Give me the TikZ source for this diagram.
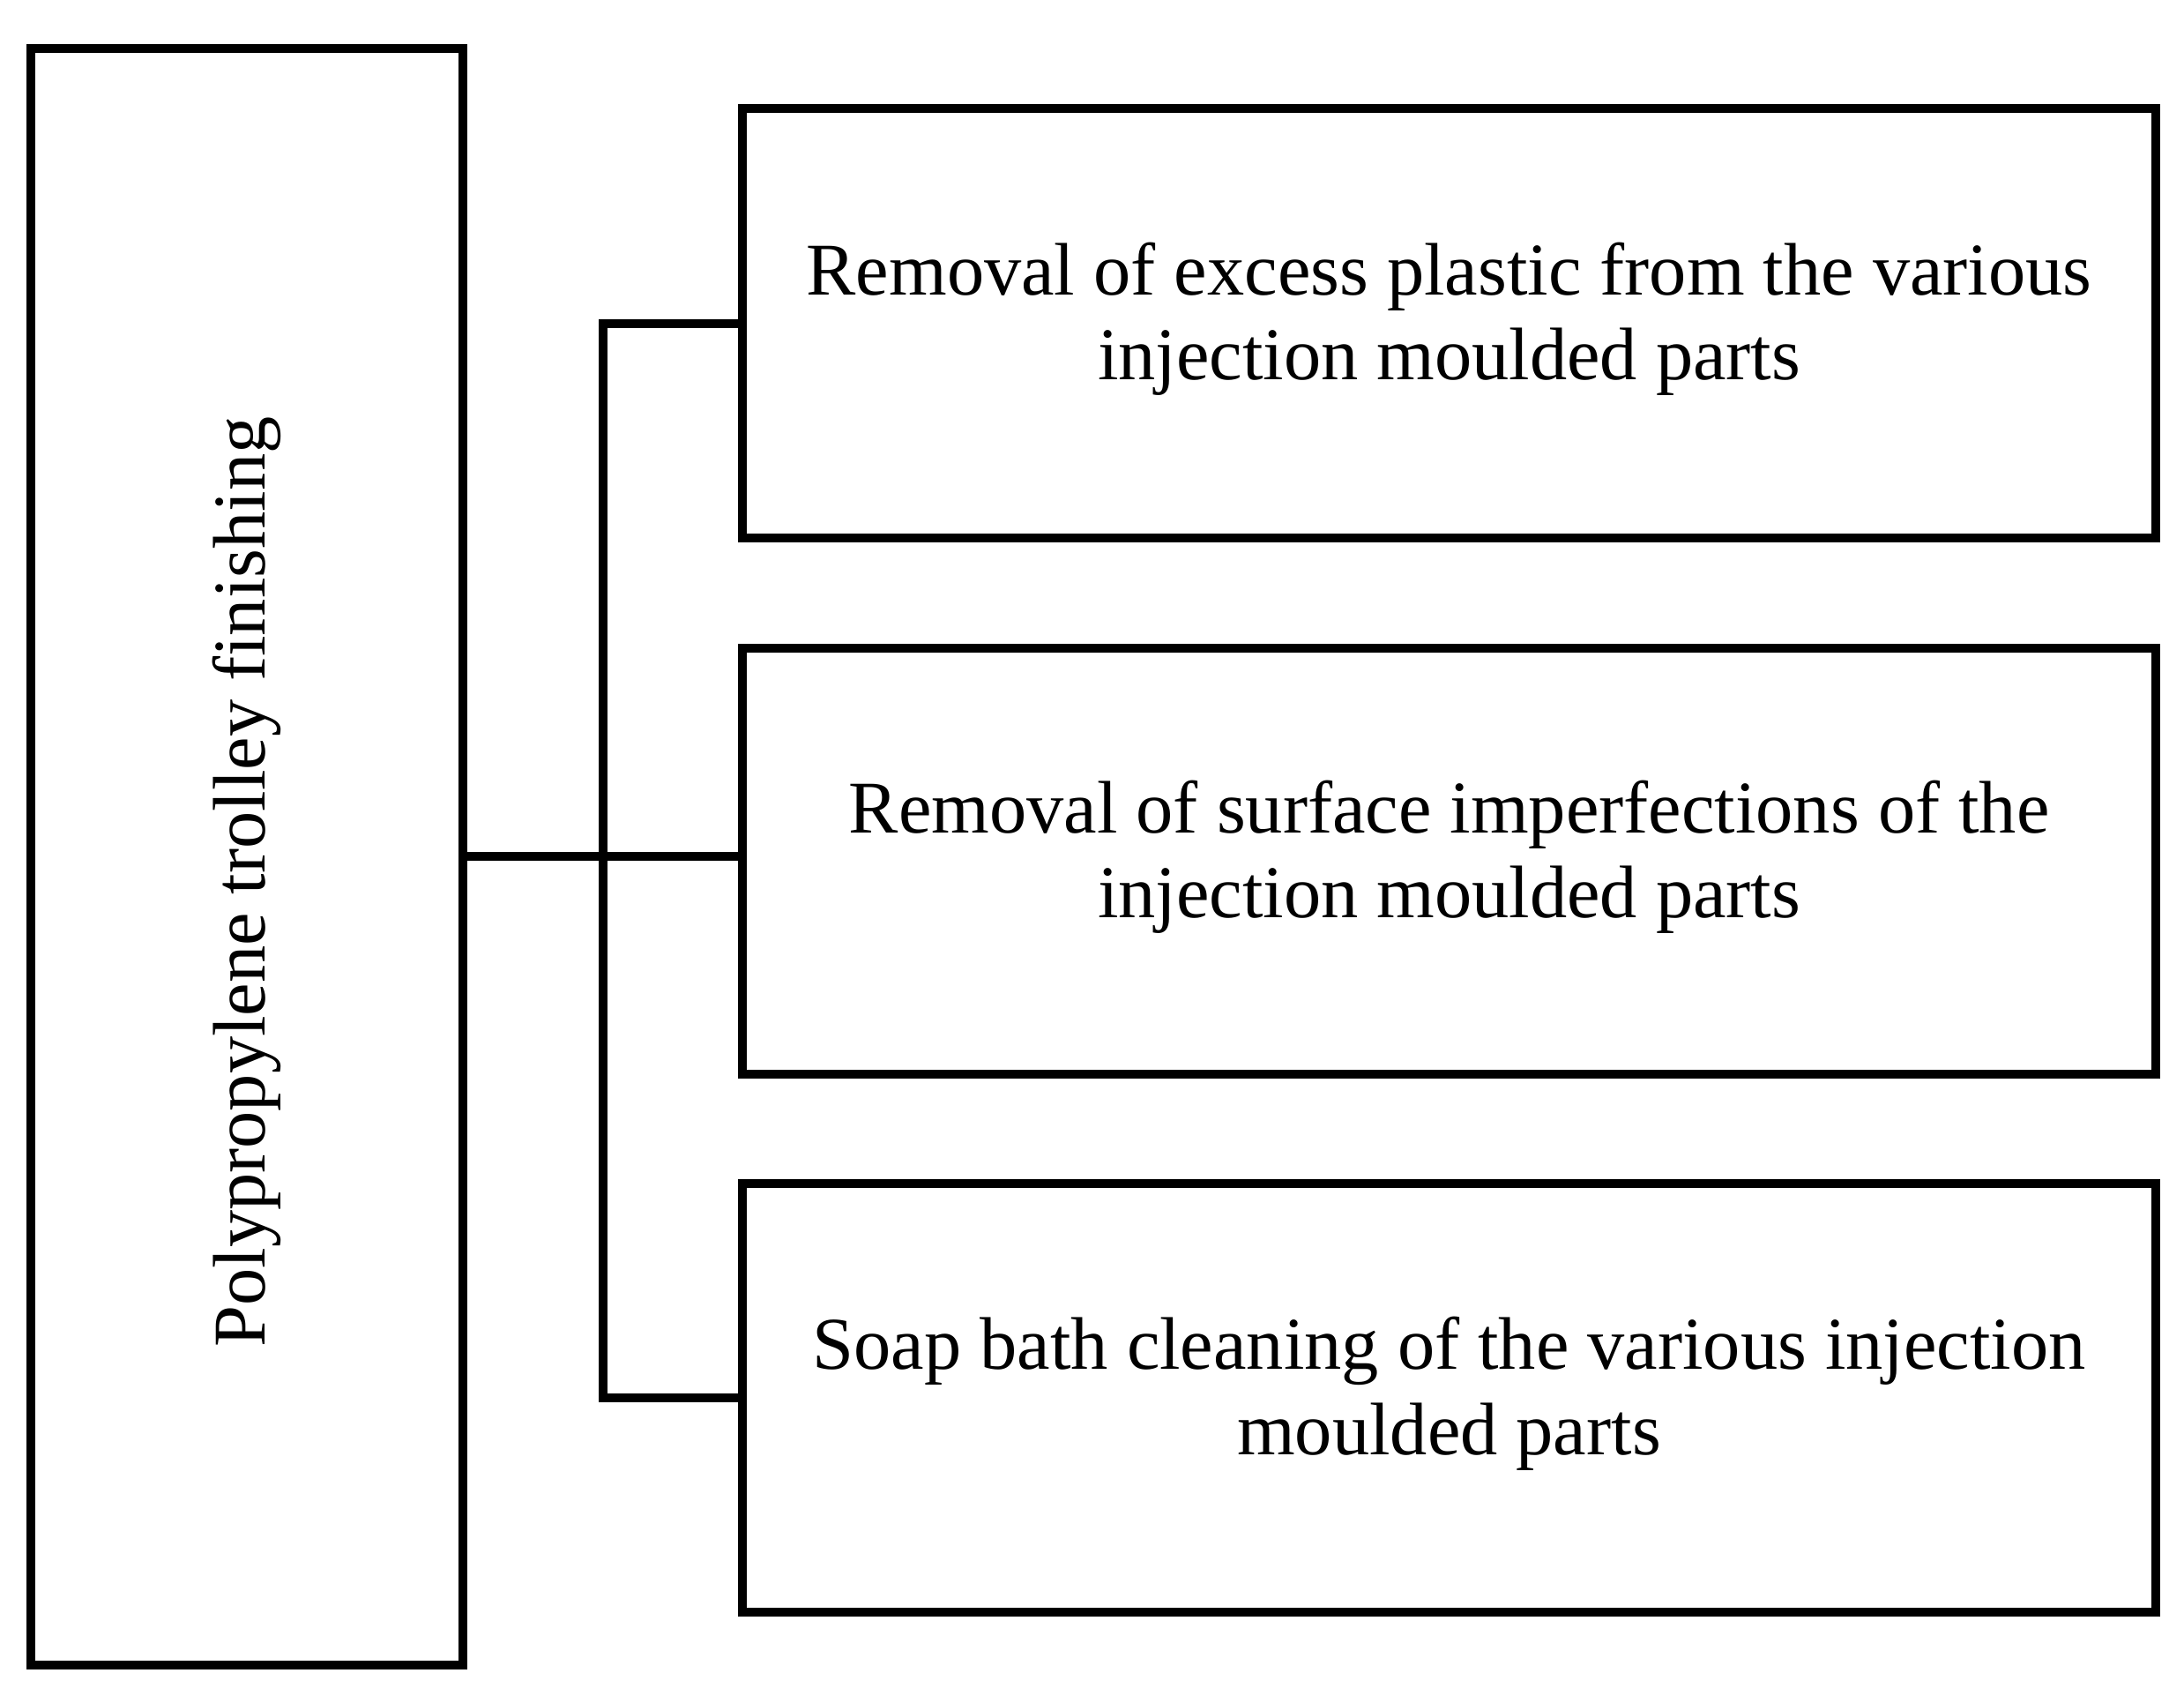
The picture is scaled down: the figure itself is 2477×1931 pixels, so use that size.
\documentclass[tikz,border=0pt]{standalone}
\usepackage{fontspec}
\setmainfont{Liberation Serif}
\begin{document}
\begin{tikzpicture}[x=0.01cm,y=-0.01cm,
  box/.style={draw,line width=2.9pt,inner sep=0pt},
  conn/.style={line width=2.9pt},
  txt/.style={align=center,font=\fontsize{24}{27.5}\selectfont}]
\useasboundingbox (0,0) rectangle (2477,1931);
\draw[box] (35,55) rectangle (525,1888);
\coordinate (lb) at (525,971);
\node[box,minimum width=16.02cm,minimum height=4.87cm,anchor=north west] (b1) at (837,118) {};
\node[box,minimum width=16.02cm,minimum height=4.83cm,anchor=north west] (b2) at (837,730) {};
\node[box,minimum width=16.02cm,minimum height=4.86cm,anchor=north west] (b3) at (837,1337) {};
\node[txt,rotate=90] (lt) at (280,1000) {Polypropylene trolley finishing};
\node[txt] at ([yshift=0.05cm]b1.center) {Removal of excess plastic from the various\\injection moulded parts};
\node[txt] at ([yshift=0.05cm]b2.center) {Removal of surface imperfections of the\\injection moulded parts};
\node[txt] at ([yshift=0.05cm]b3.center) {Soap bath cleaning of the various injection\\moulded parts};
\coordinate (j) at (684,971);
\draw[conn] (lb) -- (lb -| b2.west);
\draw[conn] (b1.west) -| (j) |- (b3.west);
\end{tikzpicture}
\end{document}
